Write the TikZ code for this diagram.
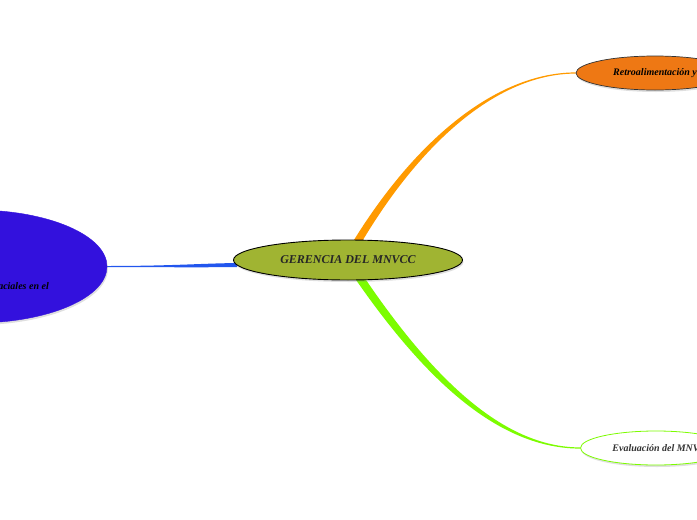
\documentclass[tikz,border=0pt]{standalone}
\usepackage{fontspec}
\setmainfont{Liberation Serif}
\usetikzlibrary{shapes.geometric,shadows,backgrounds,calc}
\definecolor{olivo}{HTML}{A0B432}
\definecolor{naranja}{HTML}{EE7814}
\definecolor{azul}{HTML}{3311DD}
\definecolor{azullinea}{HTML}{2256EE}
\definecolor{naranjalinea}{HTML}{FF9A00}
\definecolor{verde}{HTML}{7CFC00}
\begin{document}
\begin{tikzpicture}[x=1pt,y=-1pt,
	tema/.style={ellipse,draw,inner sep=0pt,font=\bfseries\itshape,
		drop shadow={opacity=0.25,shadow xshift=1pt,shadow yshift=-2pt}},
	central/.style={tema,fill=olivo,draw=black,line width=0.9pt,text=black!85,font=\fontsize{12}{14}\bfseries\itshape},
	sub/.style={tema,font=\fontsize{10}{12}\bfseries\itshape}]
			\useasboundingbox (0,0) rectangle (697,520);
			\clip (0,0) rectangle (697,520);
			\node[central,minimum width=229,minimum height=40](ger) at (348,260) {GERENCIA DEL MNVCC};
			\node[sub,fill=naranja,draw=black!80,line width=0.7pt,minimum width=158,minimum height=34](retro) at (655,73) {Retroalimentación y};
			\node[sub,fill=white,draw=verde,line width=0.8pt,text=black!80,minimum width=151,minimum height=34](eval) at (656,448) {Evaluación del MNV};
			\node[sub,fill=azul,draw=azul,minimum width=264,minimum height=113](lin) at (-25,266.5) {};
			\node[font=\fontsize{10}{12}\bfseries\itshape,anchor=east,inner sep=0pt](lintxt) at (49,286) {aciales en el};
			\begin{scope}[on background layer]
			\fill[naranjalinea] ($(ger.north)+(5,2)$) .. controls (420,133) and (501,72.5) .. ($(retro.west)+(0,-0.6)$)
				-- ($(retro.west)+(0,0.6)$) .. controls (502,73.5) and (425,136) .. ($(ger.north)+(14,2)$) -- cycle;
			\fill[verde] ($(ger.south)+(17,-2)$) .. controls (432,377) and (503,447.5) .. ($(eval.west)+(0,-0.6)$)
				-- ($(eval.west)+(0,0.6)$) .. controls (499,448.5) and (426,381) .. ($(ger.south)+(7,-2)$) -- cycle;
			\fill[azullinea] ($(lin.east)+(0,-0.5)$) .. controls (170,266) and (200,263.5) .. ($(ger.west)+(4,3)$)
				-- ($(ger.west)+(4,7)$) .. controls (200,267.5) and (170,267.2) .. ($(lin.east)+(0,0.5)$) -- cycle;
			\end{scope}
			\end{tikzpicture}
\end{document}
